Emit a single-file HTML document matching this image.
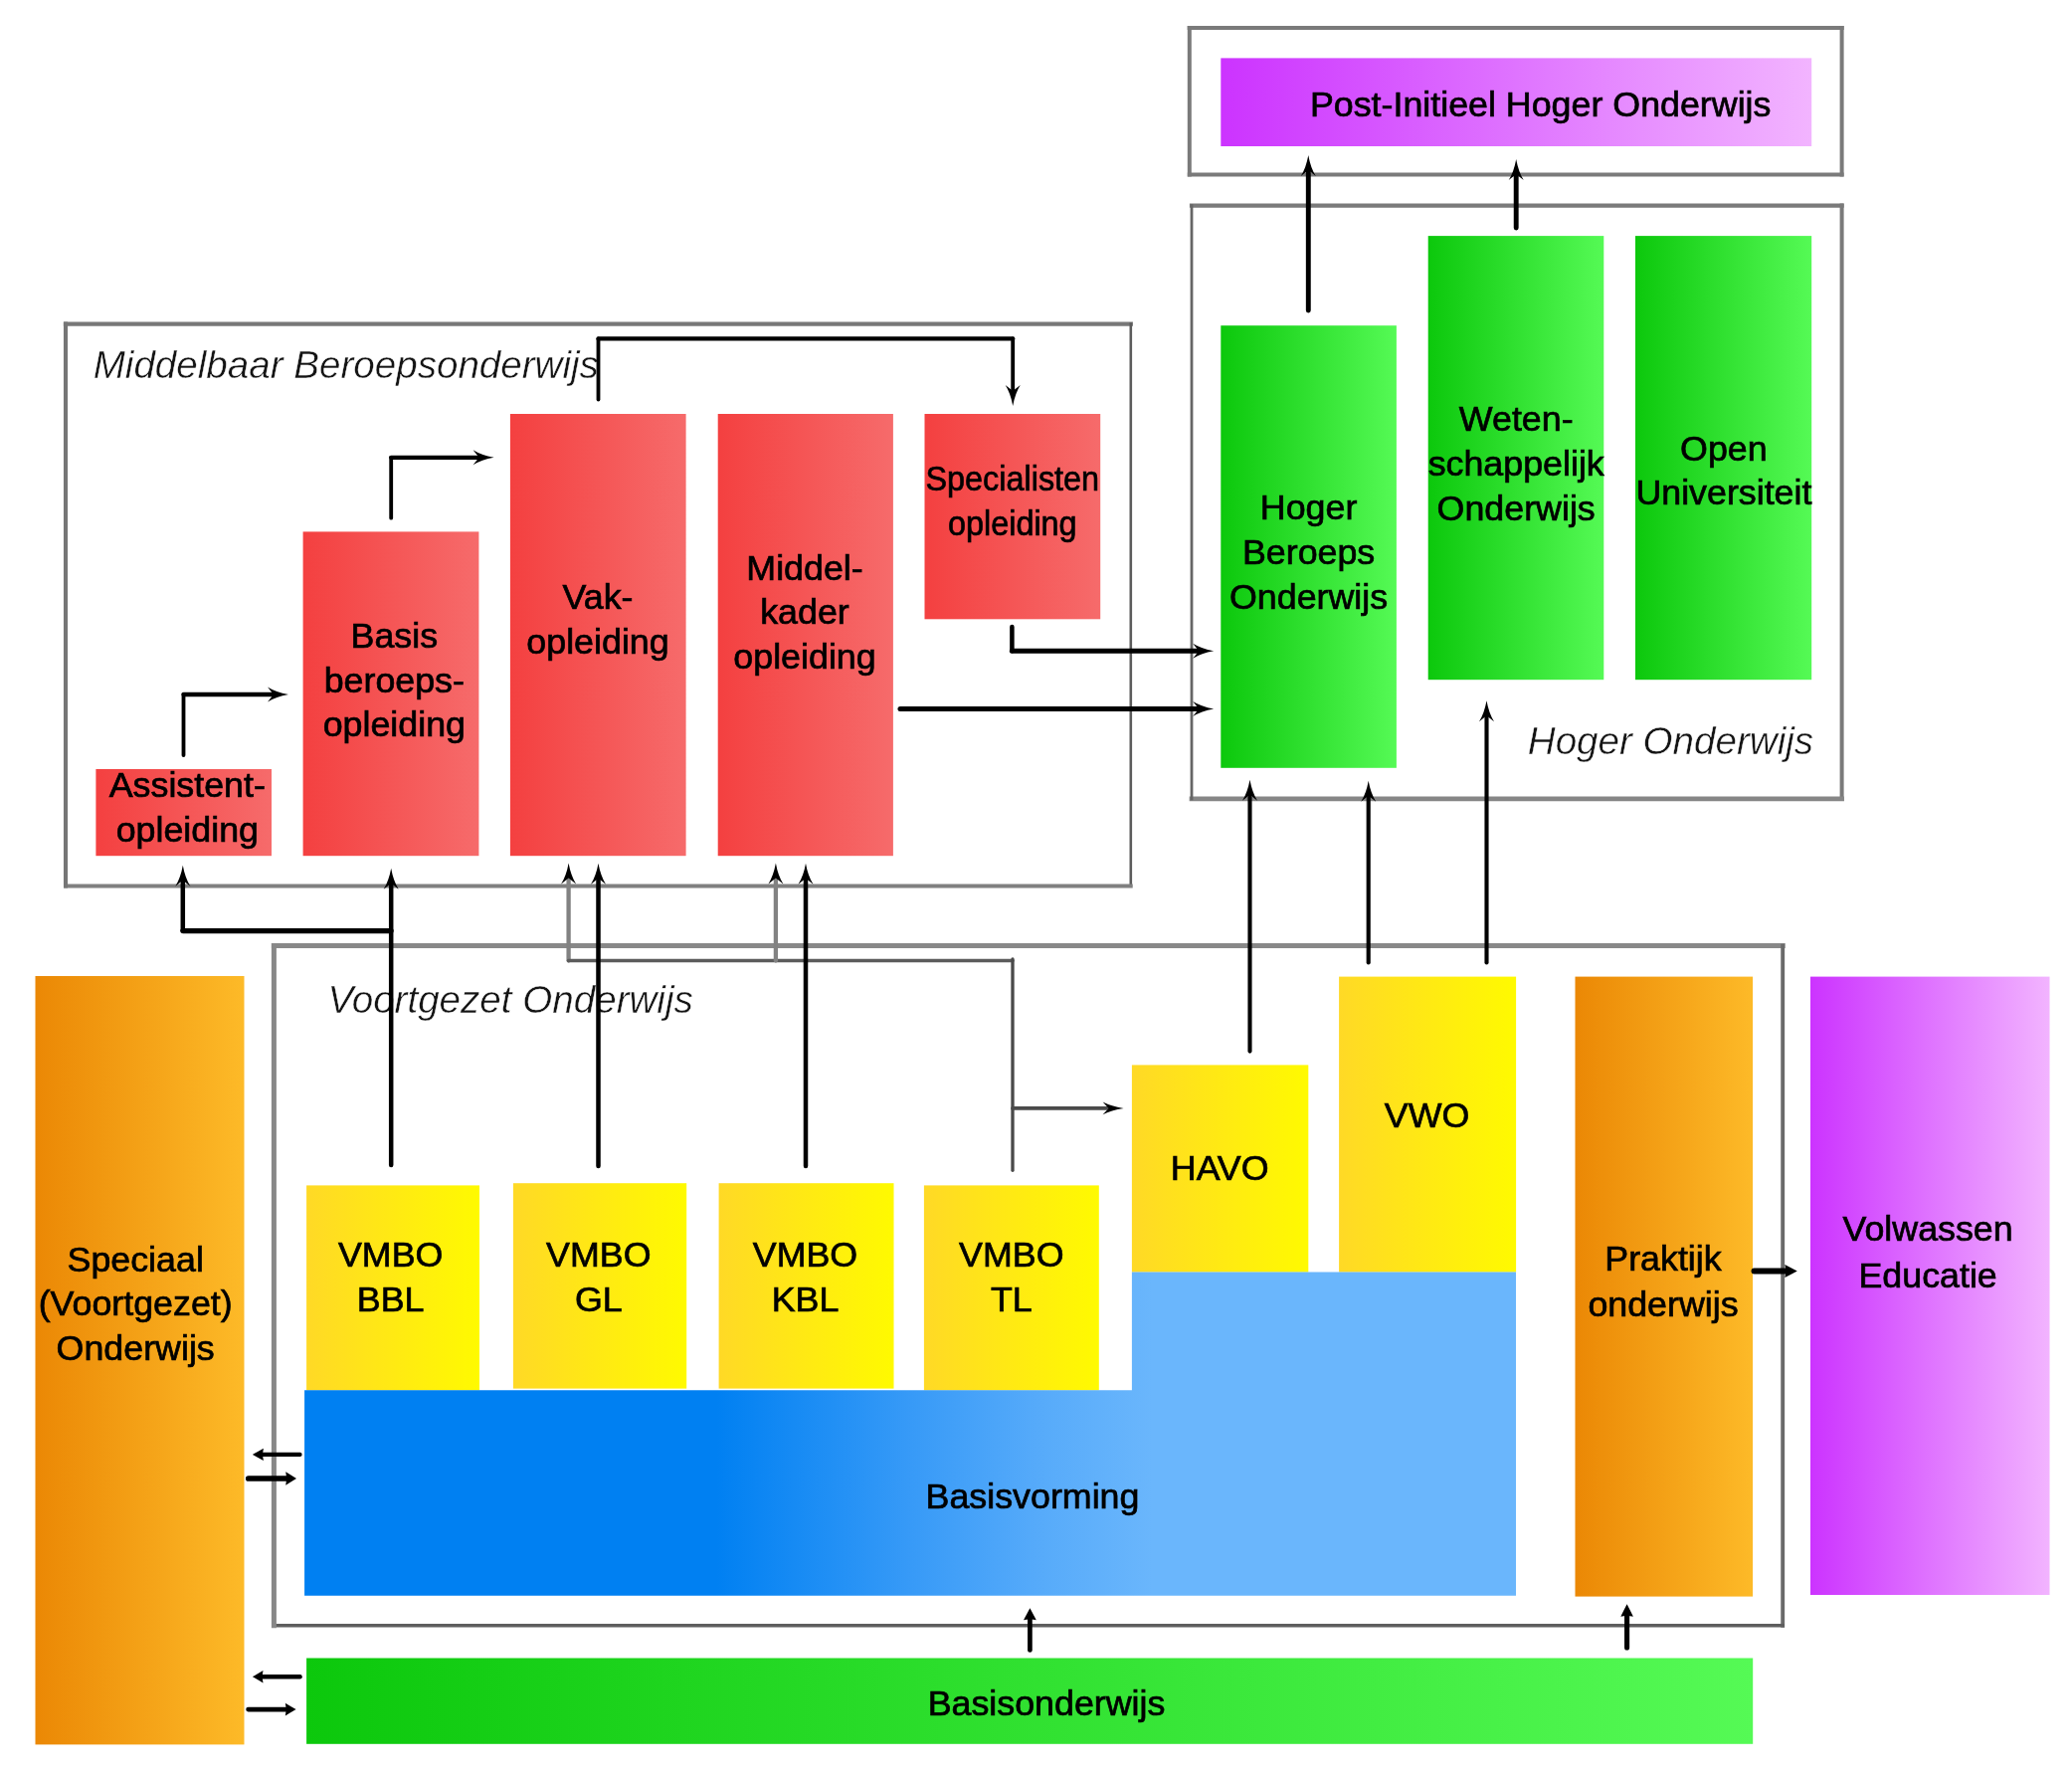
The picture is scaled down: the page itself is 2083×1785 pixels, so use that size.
<!DOCTYPE html>
<html lang="nl"><head><meta charset="utf-8"><title>Onderwijs in Nederland</title>
<style>html,body{margin:0;padding:0;background:#fff}body{width:2083px;height:1785px;overflow:hidden}svg{display:block;will-change:transform}text{font-family:"Liberation Sans",sans-serif;fill:#000;stroke:#000;stroke-width:0.7px}text.i{stroke:#fff;stroke-width:0.45px;fill:#141414}</style></head><body>
<svg width="2083" height="1785" viewBox="0 0 2083 1785">
<defs>
<linearGradient id="g-red" x1="0" y1="0" x2="1" y2="0"><stop offset="0" stop-color="#f44040"/><stop offset="1" stop-color="#f66b6b"/></linearGradient>
<linearGradient id="g-green" x1="0" y1="0" x2="1" y2="0"><stop offset="0" stop-color="#0cc80c"/><stop offset="1" stop-color="#55fa55"/></linearGradient>
<linearGradient id="g-purple" x1="0" y1="0" x2="1" y2="0"><stop offset="0" stop-color="#cc33ff"/><stop offset="1" stop-color="#f2b4ff"/></linearGradient>
<linearGradient id="g-orange" x1="0" y1="0" x2="1" y2="0"><stop offset="0" stop-color="#eb8805"/><stop offset="1" stop-color="#fdba28"/></linearGradient>
<linearGradient id="g-yellow" x1="0" y1="0" x2="1" y2="0"><stop offset="0" stop-color="#ffd926"/><stop offset="1" stop-color="#fffa00"/></linearGradient>
<linearGradient id="g-blue" gradientUnits="userSpaceOnUse" x1="306" y1="0" x2="1524" y2="0"><stop offset="0" stop-color="#0080f2"/><stop offset="0.34" stop-color="#0080f2"/><stop offset="0.5" stop-color="#379af7"/><stop offset="0.61" stop-color="#57abfa"/><stop offset="0.70" stop-color="#6ab6fc"/><stop offset="1" stop-color="#6ab6fc"/></linearGradient>
</defs>
<rect width="2083" height="1785" fill="#ffffff"/>
<line x1="1195.8" y1="28.0" x2="1851.6" y2="28.0" stroke="#7a7a7a" stroke-width="4.2" stroke-linecap="square"/>
<line x1="1851.6" y1="28.0" x2="1851.6" y2="175.5" stroke="#7a7a7a" stroke-width="4.0" stroke-linecap="square"/>
<line x1="1851.6" y1="175.5" x2="1195.8" y2="175.5" stroke="#7a7a7a" stroke-width="4.0" stroke-linecap="square"/>
<line x1="1195.8" y1="175.5" x2="1195.8" y2="28.0" stroke="#7a7a7a" stroke-width="4.0" stroke-linecap="square"/>
<line x1="1198.0" y1="206.6" x2="1851.6" y2="206.6" stroke="#7a7a7a" stroke-width="4.2" stroke-linecap="square"/>
<line x1="1851.6" y1="206.6" x2="1851.6" y2="802.8" stroke="#7a7a7a" stroke-width="4.0" stroke-linecap="square"/>
<line x1="1851.6" y1="802.8" x2="1198.0" y2="802.8" stroke="#868686" stroke-width="4.7" stroke-linecap="square"/>
<line x1="1198.0" y1="802.8" x2="1198.0" y2="206.6" stroke="#666666" stroke-width="2.8" stroke-linecap="square"/>
<line x1="66.0" y1="325.6" x2="1136.8" y2="325.6" stroke="#787878" stroke-width="4.3" stroke-linecap="square"/>
<line x1="1136.8" y1="325.6" x2="1136.8" y2="890.5" stroke="#5c5c5c" stroke-width="2.6" stroke-linecap="square"/>
<line x1="1136.8" y1="890.5" x2="66.0" y2="890.5" stroke="#808080" stroke-width="3.8" stroke-linecap="square"/>
<line x1="66.0" y1="890.5" x2="66.0" y2="325.6" stroke="#767676" stroke-width="4.1" stroke-linecap="square"/>
<line x1="275.4" y1="950.6" x2="1792.2" y2="950.6" stroke="#888888" stroke-width="5.0" stroke-linecap="square"/>
<line x1="1792.2" y1="950.6" x2="1792.2" y2="1633.8" stroke="#6a6a6a" stroke-width="3.9" stroke-linecap="square"/>
<line x1="1792.2" y1="1633.8" x2="275.4" y2="1633.8" stroke="#5e5e5e" stroke-width="3.4" stroke-linecap="square"/>
<line x1="275.4" y1="1633.8" x2="275.4" y2="950.6" stroke="#888888" stroke-width="5.0" stroke-linecap="square"/>
<rect x="1227.3" y="58.4" width="593.9" height="88.6" fill="url(#g-purple)"/>
<rect x="1227.3" y="327.2" width="176.6" height="444.6" fill="url(#g-green)"/>
<rect x="1435.7" y="237.1" width="176.6" height="446.1" fill="url(#g-green)"/>
<rect x="1644.0" y="237.1" width="177.2" height="446.1" fill="url(#g-green)"/>
<rect x="96.4" y="773.0" width="176.6" height="87.2" fill="url(#g-red)"/>
<rect x="304.6" y="534.4" width="176.8" height="325.8" fill="url(#g-red)"/>
<rect x="512.9" y="416.0" width="176.7" height="444.2" fill="url(#g-red)"/>
<rect x="721.7" y="416.0" width="176.2" height="444.2" fill="url(#g-red)"/>
<rect x="929.5" y="416.0" width="176.7" height="206.3" fill="url(#g-red)"/>
<rect x="35.5" y="981.0" width="210.0" height="772.4" fill="url(#g-orange)"/>
<rect x="308.1" y="1191.4" width="173.9" height="206.0" fill="url(#g-yellow)"/>
<rect x="515.9" y="1189.2" width="174.3" height="206.4" fill="url(#g-yellow)"/>
<rect x="722.6" y="1189.2" width="175.9" height="206.4" fill="url(#g-yellow)"/>
<rect x="928.9" y="1191.4" width="175.9" height="206.0" fill="url(#g-yellow)"/>
<rect x="1137.9" y="1070.4" width="177.4" height="208.2" fill="url(#g-yellow)"/>
<rect x="1346.1" y="981.6" width="178.0" height="297.0" fill="url(#g-yellow)"/>
<rect x="1583.5" y="981.6" width="178.6" height="623.0" fill="url(#g-orange)"/>
<rect x="1820.0" y="981.6" width="240.5" height="621.4" fill="url(#g-purple)"/>
<rect x="308.1" y="1666.5" width="1454.1" height="86.3" fill="url(#g-green)"/>
<polygon points="306.1,1397.2 1137.9,1397.2 1137.9,1278.5 1524,1278.5 1524,1603.8 306.1,1603.8" fill="url(#g-blue)"/>
<text x="1535.8" y="758.2" text-anchor="start" font-size="38.6" class="i" font-style="italic">Hoger Onderwijs</text>
<text x="93.7" y="379.8" text-anchor="start" font-size="38.6" class="i" font-style="italic">Middelbaar Beroepsonderwijs</text>
<text x="329.4" y="1017.6" text-anchor="start" font-size="38.6" class="i" font-style="italic">Voortgezet Onderwijs</text>
<line x1="571.6" y1="880.0" x2="571.6" y2="965.6" stroke="#828282" stroke-width="4.31" stroke-linecap="round"/>
<line x1="571.6" y1="965.6" x2="1018.0" y2="965.6" stroke="#5c5c5c" stroke-width="3.52" stroke-linecap="round"/>
<line x1="779.9" y1="880.0" x2="779.9" y2="965.6" stroke="#828282" stroke-width="4.31" stroke-linecap="round"/>
<line x1="1018.0" y1="964.0" x2="1018.0" y2="1176.3" stroke="#4a4a4a" stroke-width="3.33" stroke-linecap="round"/>
<line x1="1018.0" y1="1113.9" x2="1116.0" y2="1113.9" stroke="#4a4a4a" stroke-width="3.74" stroke-linecap="round"/>
<path d="M571.6,867.5 Q569.4,880.1 564.1,888.5 L571.6,882.5 L579.1,888.5 Q573.9,880.1 571.6,867.5 Z" fill="#000000"/>
<path d="M779.9,867.5 Q777.6,880.1 772.4,888.5 L779.9,882.5 L787.4,888.5 Q782.1,880.1 779.9,867.5 Z" fill="#000000"/>
<path d="M1129.6,1113.9 Q1117.0,1112.0 1108.6,1107.6 L1114.6,1113.9 L1108.6,1120.2 Q1117.0,1115.8 1129.6,1113.9 Z" fill="#000000"/>
<line x1="184.5" y1="759.0" x2="184.5" y2="698.0" stroke="#000000" stroke-width="3.82" stroke-linecap="round"/><line x1="184.5" y1="698.0" x2="276.0" y2="698.0" stroke="#000000" stroke-width="4.29" stroke-linecap="round"/>
<path d="M290.0,698.0 Q277.4,695.8 269.0,690.5 L275.0,698.0 L269.0,705.5 Q277.4,700.2 290.0,698.0 Z" fill="#000000"/>
<line x1="393.2" y1="520.7" x2="393.2" y2="459.8" stroke="#000000" stroke-width="3.82" stroke-linecap="round"/><line x1="393.2" y1="459.8" x2="482.6" y2="459.8" stroke="#000000" stroke-width="4.29" stroke-linecap="round"/>
<path d="M496.6,459.8 Q484.0,457.6 475.6,452.3 L481.6,459.8 L475.6,467.3 Q484.0,462.1 496.6,459.8 Z" fill="#000000"/>
<line x1="601.5" y1="401.6" x2="601.5" y2="340.4" stroke="#000000" stroke-width="3.82" stroke-linecap="round"/><line x1="601.5" y1="340.4" x2="1018.2" y2="340.4" stroke="#000000" stroke-width="4.29" stroke-linecap="round"/><line x1="1018.2" y1="340.4" x2="1018.2" y2="394.0" stroke="#000000" stroke-width="3.82" stroke-linecap="round"/>
<path d="M1018.2,408.0 Q1016.0,395.4 1010.7,387.0 L1018.2,393.0 L1025.7,387.0 Q1020.5,395.4 1018.2,408.0 Z" fill="#000000"/>
<line x1="1017.4" y1="630.0" x2="1017.4" y2="654.3" stroke="#000000" stroke-width="4.51" stroke-linecap="round"/><line x1="1017.4" y1="654.3" x2="1206.2" y2="654.3" stroke="#000000" stroke-width="5.06" stroke-linecap="round"/>
<path d="M1220.2,654.3 Q1207.6,652.0 1199.2,646.8 L1205.2,654.3 L1199.2,661.8 Q1207.6,656.5 1220.2,654.3 Z" fill="#000000"/>
<line x1="905.0" y1="712.5" x2="1206.2" y2="712.5" stroke="#000000" stroke-width="5.06" stroke-linecap="round"/>
<path d="M1220.2,712.5 Q1207.6,710.2 1199.2,705.0 L1205.2,712.5 L1199.2,720.0 Q1207.6,714.8 1220.2,712.5 Z" fill="#000000"/>
<line x1="393.2" y1="935.6" x2="183.8" y2="935.6" stroke="#000000" stroke-width="5.06" stroke-linecap="round"/><line x1="183.8" y1="935.6" x2="183.8" y2="883.7" stroke="#000000" stroke-width="4.51" stroke-linecap="round"/>
<path d="M183.8,869.7 Q181.6,882.3 176.3,890.7 L183.8,884.7 L191.3,890.7 Q186.1,882.3 183.8,869.7 Z" fill="#000000"/>
<line x1="393.2" y1="1171.0" x2="393.2" y2="886.8" stroke="#000000" stroke-width="4.51" stroke-linecap="round"/>
<path d="M393.2,872.8 Q390.9,885.4 385.7,893.8 L393.2,887.8 L400.7,893.8 Q395.4,885.4 393.2,872.8 Z" fill="#000000"/>
<line x1="601.5" y1="1172.0" x2="601.5" y2="881.8" stroke="#000000" stroke-width="4.51" stroke-linecap="round"/>
<path d="M601.5,867.8 Q599.2,880.4 594.0,888.8 L601.5,882.8 L609.0,888.8 Q603.8,880.4 601.5,867.8 Z" fill="#000000"/>
<line x1="810.0" y1="1172.0" x2="810.0" y2="881.8" stroke="#000000" stroke-width="4.51" stroke-linecap="round"/>
<path d="M810.0,867.8 Q807.8,880.4 802.5,888.8 L810.0,882.8 L817.5,888.8 Q812.2,880.4 810.0,867.8 Z" fill="#000000"/>
<line x1="1256.5" y1="1056.6" x2="1256.5" y2="797.7" stroke="#000000" stroke-width="4.12" stroke-linecap="round"/>
<path d="M1256.5,783.7 Q1254.2,796.3 1249.0,804.7 L1256.5,798.7 L1264.0,804.7 Q1258.8,796.3 1256.5,783.7 Z" fill="#000000"/>
<line x1="1375.7" y1="967.5" x2="1375.7" y2="798.7" stroke="#000000" stroke-width="4.12" stroke-linecap="round"/>
<path d="M1375.7,784.7 Q1373.5,797.3 1368.2,805.7 L1375.7,799.7 L1383.2,805.7 Q1378.0,797.3 1375.7,784.7 Z" fill="#000000"/>
<line x1="1494.5" y1="967.5" x2="1494.5" y2="718.2" stroke="#000000" stroke-width="4.12" stroke-linecap="round"/>
<path d="M1494.5,704.2 Q1492.2,716.8 1487.0,725.2 L1494.5,719.2 L1502.0,725.2 Q1496.8,716.8 1494.5,704.2 Z" fill="#000000"/>
<line x1="1315.3" y1="312.1" x2="1315.3" y2="170.0" stroke="#000000" stroke-width="4.90" stroke-linecap="round"/>
<path d="M1315.3,156.0 Q1313.0,168.6 1307.8,177.0 L1315.3,171.0 L1322.8,177.0 Q1317.5,168.6 1315.3,156.0 Z" fill="#000000"/>
<line x1="1524.2" y1="229.0" x2="1524.2" y2="174.0" stroke="#000000" stroke-width="4.90" stroke-linecap="round"/>
<path d="M1524.2,160.0 Q1522.0,172.6 1516.7,181.0 L1524.2,175.0 L1531.7,181.0 Q1526.5,172.6 1524.2,160.0 Z" fill="#000000"/>
<line x1="1763.5" y1="1277.5" x2="1796.3" y2="1277.5" stroke="#000000" stroke-width="5.94" stroke-linecap="round"/>
<path d="M1806.8,1277.5 Q1799.3,1273.5 1794.3,1270.9 L1795.3,1277.5 L1794.3,1284.1 Q1799.3,1281.5 1806.8,1277.5 Z" fill="#000000"/>
<line x1="1035.4" y1="1658.5" x2="1035.4" y2="1626.2" stroke="#000000" stroke-width="4.70" stroke-linecap="round"/>
<path d="M1035.4,1616.2 Q1031.6,1623.4 1029.0,1628.2 L1035.4,1627.2 L1041.8,1628.2 Q1039.2,1623.4 1035.4,1616.2 Z" fill="#000000"/>
<line x1="1635.6" y1="1656.0" x2="1635.6" y2="1622.7" stroke="#000000" stroke-width="5.10" stroke-linecap="round"/>
<path d="M1635.6,1612.3 Q1631.8,1619.7 1629.3,1624.7 L1635.6,1623.7 L1641.9,1624.7 Q1639.4,1619.7 1635.6,1612.3 Z" fill="#000000"/>
<line x1="301.6" y1="1461.9" x2="262.9" y2="1461.9" stroke="#000000" stroke-width="4.07" stroke-linecap="round"/>
<path d="M253.9,1461.9 Q260.5,1458.2 264.9,1455.7 L263.9,1461.9 L264.9,1468.1 Q260.5,1465.6 253.9,1461.9 Z" fill="#000000"/>
<line x1="249.8" y1="1486.0" x2="289.2" y2="1486.0" stroke="#000000" stroke-width="5.72" stroke-linecap="round"/>
<path d="M298.0,1486.0 Q291.5,1482.0 287.2,1479.3 L288.2,1486.0 L287.2,1492.7 Q291.5,1490.0 298.0,1486.0 Z" fill="#000000"/>
<line x1="301.6" y1="1685.2" x2="262.5" y2="1685.2" stroke="#000000" stroke-width="4.40" stroke-linecap="round"/>
<path d="M253.9,1685.2 Q260.3,1681.5 264.5,1679.0 L263.5,1685.2 L264.5,1691.4 Q260.3,1688.9 253.9,1685.2 Z" fill="#000000"/>
<line x1="249.6" y1="1718.1" x2="288.8" y2="1718.1" stroke="#000000" stroke-width="4.73" stroke-linecap="round"/>
<path d="M297.6,1718.1 Q291.1,1714.3 286.8,1711.7 L287.8,1718.1 L286.8,1724.5 Q291.1,1721.9 297.6,1718.1 Z" fill="#000000"/>
<text x="1316.9" y="117.3" text-anchor="start" font-size="35.8">Post-Initieel Hoger Onderwijs</text>
<text x="1315.6" y="522.2" text-anchor="middle" font-size="35.8">Hoger</text>
<text x="1315.6" y="567.2" text-anchor="middle" font-size="35.8">Beroeps</text>
<text x="1315.6" y="611.6" text-anchor="middle" font-size="35.8">Onderwijs</text>
<text x="1524.2" y="433.0" text-anchor="middle" font-size="35.8">Weten-</text>
<text x="1524.2" y="477.8" text-anchor="middle" font-size="35.8">schappelijk</text>
<text x="1524.2" y="522.6" text-anchor="middle" font-size="35.8">Onderwijs</text>
<text x="1732.9" y="463.0" text-anchor="middle" font-size="35.8">Open</text>
<text x="1732.9" y="507.4" text-anchor="middle" font-size="35.8">Universiteit</text>
<text x="188.3" y="801.0" text-anchor="middle" font-size="35.8">Assistent-</text>
<text x="188.3" y="845.5" text-anchor="middle" font-size="35.8">opleiding</text>
<text x="396.3" y="651.0" text-anchor="middle" font-size="35.8">Basis</text>
<text x="396.3" y="695.5" text-anchor="middle" font-size="35.8">beroeps-</text>
<text x="396.3" y="740.1" text-anchor="middle" font-size="35.8">opleiding</text>
<text x="601.0" y="612.0" text-anchor="middle" font-size="35.8">Vak-</text>
<text x="601.0" y="656.5" text-anchor="middle" font-size="35.8">opleiding</text>
<text x="809.0" y="582.5" text-anchor="middle" font-size="35.8">Middel-</text>
<text x="809.0" y="627.1" text-anchor="middle" font-size="35.8">kader</text>
<text x="809.0" y="671.7" text-anchor="middle" font-size="35.8">opleiding</text>
<text transform="translate(1017.8 493.2) scale(0.905 1)" text-anchor="middle" font-size="35.8">Specialisten</text>
<text transform="translate(1017.8 537.8) scale(0.905 1)" text-anchor="middle" font-size="35.8">opleiding</text>
<text x="136.2" y="1277.5" text-anchor="middle" font-size="35.8">Speciaal</text>
<text x="136.2" y="1322.1" text-anchor="middle" font-size="35.8">(Voortgezet)</text>
<text x="136.2" y="1366.7" text-anchor="middle" font-size="35.8">Onderwijs</text>
<text x="392.7" y="1273.0" text-anchor="middle" font-size="35.8">VMBO</text>
<text x="392.7" y="1317.6" text-anchor="middle" font-size="35.8">BBL</text>
<text x="601.8" y="1273.0" text-anchor="middle" font-size="35.8">VMBO</text>
<text x="601.8" y="1317.6" text-anchor="middle" font-size="35.8">GL</text>
<text x="809.5" y="1273.0" text-anchor="middle" font-size="35.8">VMBO</text>
<text x="809.5" y="1317.6" text-anchor="middle" font-size="35.8">KBL</text>
<text x="1016.8" y="1273.0" text-anchor="middle" font-size="35.8">VMBO</text>
<text x="1016.8" y="1317.6" text-anchor="middle" font-size="35.8">TL</text>
<text x="1226.2" y="1186.4" text-anchor="middle" font-size="35.8">HAVO</text>
<text x="1434.6" y="1132.6" text-anchor="middle" font-size="35.8">VWO</text>
<text x="1672.0" y="1276.5" text-anchor="middle" font-size="35.8">Praktijk</text>
<text x="1672.0" y="1323.1" text-anchor="middle" font-size="35.8">onderwijs</text>
<text x="1938.1" y="1247.1" text-anchor="middle" font-size="35.8">Volwassen</text>
<text x="1938.1" y="1293.8" text-anchor="middle" font-size="35.8">Educatie</text>
<text x="1038.0" y="1515.7" text-anchor="middle" font-size="35.8">Basisvorming</text>
<text x="1052.0" y="1724.0" text-anchor="middle" font-size="35.8">Basisonderwijs</text>
</svg></body></html>
